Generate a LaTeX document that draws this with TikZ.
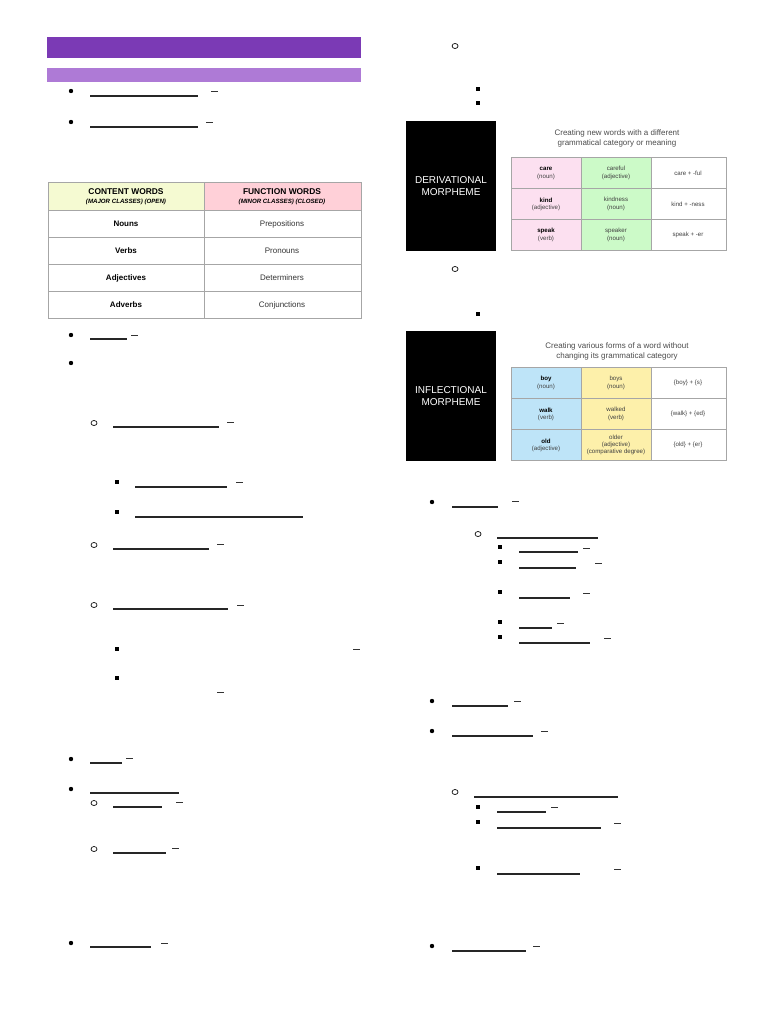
\documentclass[tikz,border=0pt]{standalone}
\usepackage{fontspec}
\setmainfont{Liberation Sans}
\begin{document}
\begin{tikzpicture}[x=0.75pt,y=-0.75pt,
  uline/.style={line width=0.8pt,black!85},
  dashm/.style={line width=0.7pt,black!80},
  dotb/.style={fill=black},
  circb/.style={draw=black,line width=0.5pt},
  sqb/.style={fill=black},
  grid/.style={draw=black!35,line width=0.5pt},
  cell/.style={font=\fontsize{6}{7}\selectfont,align=center,text=black!80,inner sep=0pt},
  cellb/.style={font=\fontsize{6}{7}\selectfont\bfseries,align=center,inner sep=0pt},
  hd/.style={font=\fontsize{6.3}{7}\selectfont\bfseries,align=center,inner sep=0pt},
  sm/.style={font=\fontsize{4.6}{5.5}\selectfont,align=center,text=black!75,inner sep=0pt},
  smb/.style={font=\fontsize{4.6}{5.5}\selectfont\bfseries,align=center,inner sep=0pt},
  captxt/.style={font=\fontsize{6}{7.5}\selectfont,align=center,text=black!70,inner sep=0pt},
  blk/.style={font=\fontsize{7.5}{9}\selectfont,align=center,text=white,inner sep=0pt}]
\useasboundingbox[fill=white] (0,0) rectangle (768,1024);
\newcommand\pB[2]{\fill[dotb] (#1,#2) circle (2.2);}
\newcommand\pC[2]{\draw[circb] (#1,#2) ellipse (3 and 2.5);}
\newcommand\pS[2]{\fill[sqb] (#1-2,#2-2) rectangle (#1+2,#2+2);}
\newcommand\pU[3]{\draw[uline] (#1,#3) -- (#2,#3);}
\newcommand\pD[2]{\draw[dashm] (#1,#2) -- (#1+7,#2);}
% header bars
\fill[fill={rgb,255:red,123;green,58;blue,181}] (47,37) rectangle (361,58);
\fill[fill={rgb,255:red,174;green,122;blue,214}] (47,68) rectangle (361,82);
% left column
\pB{71}{91}\pU{90}{198}{96}\pD{211}{91}
\pB{71}{122}\pU{90}{198}{127}\pD{206}{122}
% content/function table
\fill[fill={rgb,255:red,245;green,250;blue,210}] (48,182) rectangle (204,210);
\fill[fill={rgb,255:red,255;green,208;blue,216}] (204,182) rectangle (361,210);
\draw[grid] (48,182) rectangle (361,318);
\foreach \yy in {210,237,264,291} \draw[grid] (48,\yy) -- (361,\yy);
\draw[grid] (204,182) -- (204,318);
\node[hd] (h1) at (126,192) {CONTENT WORDS};
\node[font=\fontsize{4.6}{5}\selectfont\bfseries\itshape,inner sep=0pt] (h1s) at (126,202) {(MAJOR CLASSES) (OPEN)};
\node[hd] (h2) at (282,192) {FUNCTION WORDS};
\node[font=\fontsize{4.6}{5}\selectfont\bfseries\itshape,inner sep=0pt] (h2s) at (282,202) {(MINOR CLASSES) (CLOSED)};
\node[cellb] (n1) at (126,224) {Nouns};
\node[cellb] (n2) at (126,251) {Verbs};
\node[cellb] (n3) at (126,278) {Adjectives};
\node[cellb] (n4) at (126,305) {Adverbs};
\node[cell] (f1) at (282,224) {Prepositions};
\node[cell] (f2) at (282,251) {Pronouns};
\node[cell] (f3) at (282,278) {Determiners};
\node[cell] (f4) at (282,305) {Conjunctions};
\pB{71}{335}\pU{90}{127}{339}\pD{131}{335}
\pB{71}{363}
\pC{94}{423}\pU{113}{219}{427}\pD{227}{422}
\pS{117}{482}\pU{135}{227}{487}\pD{236}{482}
\pS{117}{512}\pU{135}{303}{517}
\pC{94}{545}\pU{113}{209}{549}\pD{217}{544}
\pC{94}{605}\pU{113}{228}{609}\pD{237}{605}
\pS{117}{649}\pD{353}{649}
\pS{117}{678}\pD{217}{692}
\pB{71}{759}\pU{90}{122}{763}\pD{126}{758}
\pB{71}{789}\pU{90}{179}{793}
\pC{94}{803}\pU{113}{162}{807}\pD{176}{802}
\pC{94}{849}\pU{113}{166}{853}\pD{172}{848}
\pB{71}{943}\pU{90}{151}{947}\pD{161}{943}
% right column
\pC{455}{46}
\pS{478}{89}\pS{478}{103}
\fill[black] (406,121) rectangle (496,251);
\node[blk] (dm) at (451,186) {DERIVATIONAL\\MORPHEME};
\node[captxt] (dc) at (617,138) {Creating new words with a different\\grammatical category or meaning};
\fill[fill={rgb,255:red,252;green,224;blue,240}] (511,157) rectangle (581,250);
\fill[fill={rgb,255:red,204;green,250;blue,200}] (581,157) rectangle (651,250);
\draw[grid] (511,157) rectangle (726,250);
\foreach \yy in {188,219} \draw[grid] (511,\yy) -- (726,\yy);
\draw[grid] (581,157) -- (581,250); \draw[grid] (651,157) -- (651,250);
\node[smb] (d11) at (546,169) {care}; \node[sm] (d11b) at (546,177) {(noun)};
\node[smb] (d21) at (546,200) {kind}; \node[sm] (d21b) at (546,208) {(adjective)};
\node[smb] (d31) at (546,231) {speak}; \node[sm] (d31b) at (546,239) {(verb)};
\node[sm] (d12) at (616,173) {careful\\(adjective)};
\node[sm] (d22) at (616,204) {kindness\\(noun)};
\node[sm] (d32) at (616,235) {speaker\\(noun)};
\node[sm] (d13) at (688,173) {care + -ful};
\node[sm] (d23) at (688,204) {kind + -ness};
\node[sm] (d33) at (688,235) {speak + -er};
\pC{455}{269}
\pS{478}{314}
\fill[black] (406,331) rectangle (496,461);
\node[blk] (im) at (451,396) {INFLECTIONAL\\MORPHEME};
\node[captxt] (ic) at (617,351) {Creating various forms of a word without\\changing its grammatical category};
\fill[fill={rgb,255:red,190;green,228;blue,248}] (511,367) rectangle (581,460);
\fill[fill={rgb,255:red,253;green,240;blue,170}] (581,367) rectangle (651,460);
\draw[grid] (511,367) rectangle (726,460);
\foreach \yy in {398,429} \draw[grid] (511,\yy) -- (726,\yy);
\draw[grid] (581,367) -- (581,460); \draw[grid] (651,367) -- (651,460);
\node[smb] (i11) at (546,379) {boy}; \node[sm] (i11b) at (546,387) {(noun)};
\node[smb] (i21) at (546,410) {walk}; \node[sm] (i21b) at (546,418) {(verb)};
\node[smb] (i31) at (546,441) {old}; \node[sm] (i31b) at (546,449) {(adjective)};
\node[sm] (i12) at (616,383) {boys\\(noun)};
\node[sm] (i22) at (616,414) {walked\\(verb)};
\node[sm] (i32) at (616,445) {older\\(adjective)\\(comparative degree)};
\node[sm] (i13) at (688,383) {\{boy\} + \{s\}};
\node[sm] (i23) at (688,414) {\{walk\} + \{ed\}};
\node[sm] (i33) at (688,445) {\{old\} + \{er\}};
\pB{432}{502}\pU{452}{498}{507}\pD{512}{501}
\pC{478}{534}\pU{497}{598}{538}
\pS{500}{547}\pU{519}{578}{552}\pD{583}{548}
\pS{500}{562}\pU{519}{576}{568}\pD{595}{563}
\pS{500}{592}\pU{519}{570}{598}\pD{583}{593}
\pS{500}{622}\pU{519}{552}{628}\pD{557}{623}
\pS{500}{637}\pU{519}{590}{643}\pD{604}{638}
\pB{432}{701}\pU{452}{508}{706}\pD{514}{701}
\pB{432}{731}\pU{452}{533}{736}\pD{541}{731}
\pC{455}{792}\pU{474}{618}{797}
\pS{478}{807}\pU{497}{546}{812}\pD{551}{807}
\pS{478}{822}\pU{497}{601}{828}\pD{614}{823}
\pS{478}{868}\pU{497}{580}{874}\pD{614}{869}
\pB{432}{946}\pU{452}{526}{951}\pD{533}{946}
\end{tikzpicture}
\end{document}
